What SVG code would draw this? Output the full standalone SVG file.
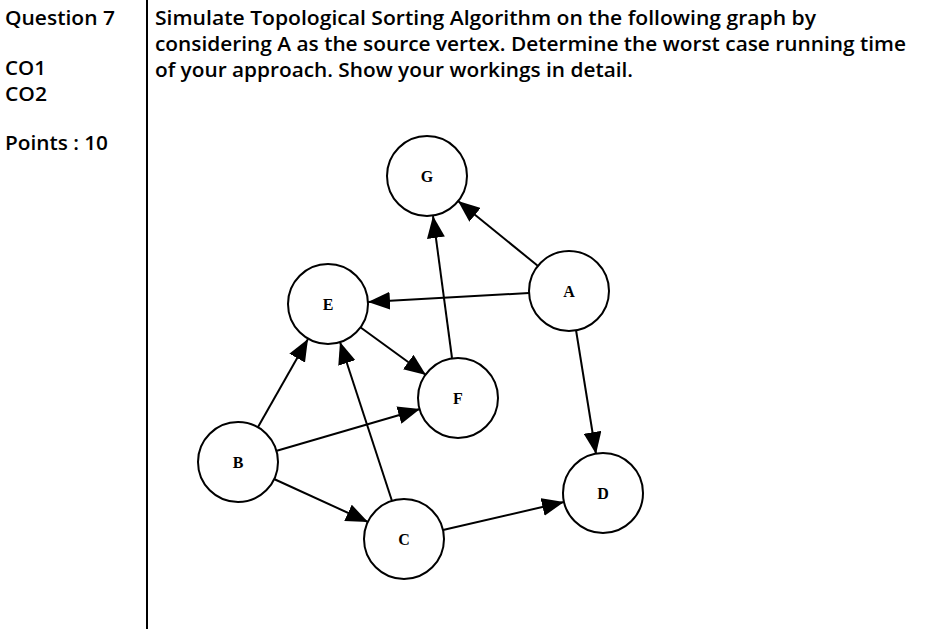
<svg xmlns="http://www.w3.org/2000/svg" width="935" height="629" viewBox="0 0 935 629">
<defs>
<style>
.t{font-family:"Open Sans","DejaVu Sans",sans-serif;font-size:20px;font-weight:600;fill:#000}
.n circle{fill:#fff;stroke:#000;stroke-width:2}
.n text{font-family:"Liberation Serif",serif;font-weight:bold;font-size:16px;text-anchor:middle;fill:#000}
.e line{stroke:#000;stroke-width:2;marker-end:url(#ah)}
</style>
<marker id="ah" markerUnits="userSpaceOnUse" markerWidth="22" markerHeight="18" refX="22" refY="9" orient="auto"><path d="M0,0 L22,9 L0,18 z" fill="#000"/></marker>
</defs>
<rect width="935" height="629" fill="#fff"/>
<line x1="147" y1="0" x2="147" y2="629" stroke="#000" stroke-width="2"/>
<g id="left">
<text class="t" x="5" y="25" textLength="110" lengthAdjust="spacingAndGlyphs">Question 7</text>
<text class="t" x="5" y="75" textLength="41" lengthAdjust="spacingAndGlyphs" font-size="19">CO1</text>
<text class="t" x="5" y="101" textLength="42" lengthAdjust="spacingAndGlyphs" font-size="19">CO2</text>
<text class="t" x="5" y="150" textLength="103" lengthAdjust="spacingAndGlyphs">Points : 10</text>
</g>
<g id="question">
<text class="t" x="155" y="25" textLength="661" lengthAdjust="spacingAndGlyphs">Simulate Topological Sorting Algorithm on the following graph by</text>
<text class="t" x="155" y="51" textLength="751" lengthAdjust="spacingAndGlyphs">considering A as the source vertex. Determine the worst case running time</text>
<text class="t" x="155" y="77" textLength="478" lengthAdjust="spacingAndGlyphs">of your approach. Show your workings in detail.</text>
</g>
<g id="edges" class="e">
<line x1="538" y1="266" x2="458" y2="201"/>
<line x1="529" y1="293" x2="368" y2="302"/>
<line x1="576" y1="330" x2="596" y2="454"/>
<line x1="452" y1="358" x2="433" y2="216"/>
<line x1="360" y1="327" x2="426" y2="375"/>
<line x1="258" y1="427" x2="308" y2="339"/>
<line x1="276" y1="451" x2="420" y2="409"/>
<line x1="274" y1="479" x2="368" y2="522"/>
<line x1="392" y1="501" x2="340" y2="342"/>
<line x1="443" y1="530" x2="564" y2="502"/>
</g>
<g id="G" class="n"><circle cx="427" cy="176" r="40"/><text x="427" y="182">G</text></g>
<g id="A" class="n"><circle cx="569" cy="291" r="40"/><text x="569" y="297">A</text></g>
<g id="E" class="n"><circle cx="328" cy="304" r="40"/><text x="328" y="310">E</text></g>
<g id="F" class="n"><circle cx="458" cy="398" r="40"/><text x="458" y="404">F</text></g>
<g id="B" class="n"><circle cx="238" cy="462" r="40"/><text x="238" y="468">B</text></g>
<g id="C" class="n"><circle cx="404" cy="539" r="40"/><text x="404" y="545">C</text></g>
<g id="D" class="n"><circle cx="603" cy="493" r="40"/><text x="603" y="499">D</text></g>
</svg>
